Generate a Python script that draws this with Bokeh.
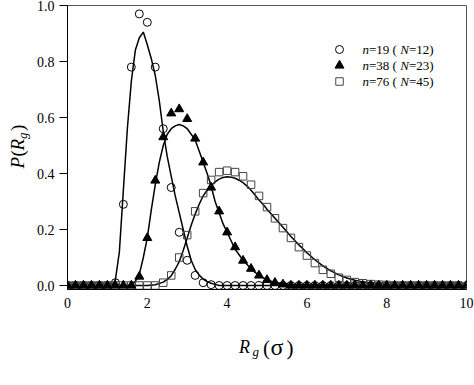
import numpy as np
from bokeh.plotting import figure
from bokeh.layouts import row, column
from bokeh.models import Range1d, FixedTicker, CustomJSTickFormatter
from bokeh.core.properties import value
from bokeh.embed import file_html
from bokeh.resources import INLINE

# ---- data ----
rg_bins = [round(0.2 * i, 1) for i in range(51)]  # 0.0 .. 10.0 step 0.2

n19_sim = [0, 0, 0, 0, 0, 0, 0.01, 0.29, 0.78, 0.97, 0.94, 0.78, 0.56, 0.35, 0.19,
           0.09, 0.036, 0.01, 0.003] + [0] * 32
n38_sim = [0] * 9 + [0.032, 0.17, 0.375, 0.53, 0.615, 0.63, 0.595, 0.525, 0.44, 0.35,
                     0.265, 0.19, 0.137, 0.089, 0.06, 0.036, 0.02, 0.01, 0.004] + [0] * 23
n76_sim = [0] * 12 + [0.01, 0.036, 0.10, 0.18, 0.265, 0.33, 0.377, 0.405, 0.41, 0.405,
                      0.39, 0.36, 0.32, 0.28, 0.24, 0.205, 0.17, 0.137, 0.107, 0.08,
                      0.056, 0.042, 0.028, 0.02, 0.012, 0.008, 0.005, 0.003, 0.002] + [0] * 9

fit19_x = [0.0, 1.0, 1.1, 1.2, 1.3, 1.4, 1.5, 1.6, 1.7, 1.8, 1.9, 2.0, 2.1, 2.2, 2.3, 2.4,
           2.5, 2.6, 2.7, 2.8, 2.9, 3.0, 3.1, 3.2, 3.3, 3.4, 3.5, 3.6, 3.7, 3.8, 10.0]
fit19_y = [0.0, 0.0, 0.0, 0.02, 0.12, 0.34, 0.56, 0.73, 0.84, 0.885, 0.905, 0.86, 0.81,
           0.75, 0.66, 0.55, 0.46, 0.39, 0.32, 0.26, 0.20, 0.14, 0.09, 0.057, 0.037,
           0.023, 0.014, 0.008, 0.004, 0.0, 0.0]

fit38_x = [0.0, 1.6, 1.7, 1.8, 1.9, 2.0, 2.1, 2.2, 2.3, 2.4, 2.5, 2.6, 2.7, 2.8, 2.9, 3.0,
           3.1, 3.2, 3.3, 3.4, 3.5, 3.6, 3.7, 3.8, 3.9, 4.0, 4.1, 4.2, 4.3, 4.4, 4.5, 4.6,
           4.7, 4.8, 4.9, 5.0, 5.2, 5.4, 5.6, 5.8, 10.0]
fit38_y = [0.0, 0.0, 0.015, 0.04, 0.10, 0.17, 0.27, 0.36, 0.44, 0.50, 0.54, 0.56, 0.57,
           0.575, 0.57, 0.56, 0.54, 0.52, 0.48, 0.44, 0.40, 0.355, 0.30, 0.26, 0.22, 0.19,
           0.16, 0.13, 0.11, 0.09, 0.075, 0.06, 0.047, 0.037, 0.028, 0.02, 0.011, 0.006,
           0.003, 0.0, 0.0]

fit76_x = [0.0, 2.0, 2.2, 2.4, 2.5, 2.6, 2.7, 2.8, 2.9, 3.0, 3.1, 3.2, 3.3, 3.4, 3.5, 3.6,
           3.7, 3.8, 3.9, 4.0, 4.1, 4.2, 4.3, 4.4, 4.5, 4.6, 4.7, 4.8, 4.9, 5.0, 5.2, 5.4,
           5.6, 5.8, 6.0, 6.2, 6.4, 6.6, 6.8, 7.0, 7.2, 7.4, 7.6, 7.8, 8.0, 8.2, 8.4, 10.0]
fit76_y = [0.0, 0.0, 0.003, 0.012, 0.022, 0.035, 0.058, 0.085, 0.125, 0.17, 0.215, 0.255,
           0.29, 0.32, 0.34, 0.357, 0.37, 0.38, 0.386, 0.388, 0.387, 0.383, 0.376, 0.367,
           0.355, 0.34, 0.323, 0.305, 0.29, 0.272, 0.24, 0.208, 0.175, 0.145, 0.117, 0.092,
           0.07, 0.052, 0.038, 0.027, 0.019, 0.013, 0.008, 0.005, 0.003, 0.001, 0.0, 0.0]

x_ticks = [0, 2, 4, 6, 8, 10]
y_ticks = [0.0, 0.2, 0.4, 0.6, 0.8, 1.0]
legend_n = ["19", "38", "76"]
legend_N = ["12", "23", "45"]

SERIF = "Liberation Serif"

# ---------------- main plot ----------------
MAIN_W, MAIN_H = 442, 319
p = figure(width=MAIN_W, height=MAIN_H, output_backend="svg", toolbar_location=None,
           x_range=Range1d(0, 10), y_range=Range1d(-4 / 280.0, 1.0),
           min_border_left=35, min_border_right=8, min_border_top=5, min_border_bottom=30)
p.grid.visible = False
p.outline_line_color = "#555555"
p.outline_line_width = 1
p.background_fill_color = "white"
p.border_fill_color = "white"

for ax in (p.xaxis[0], p.yaxis[0]):
    ax.axis_line_color = "black"
    ax.axis_line_width = 1
    ax.major_tick_line_color = "black"
    ax.minor_tick_line_color = None
    ax.major_label_text_font = SERIF
    ax.major_label_text_font_size = "14px"
    ax.major_label_text_color = "black"
p.xaxis.ticker = FixedTicker(ticks=x_ticks)
p.yaxis.ticker = FixedTicker(ticks=y_ticks)
p.yaxis.formatter = CustomJSTickFormatter(code="return tick.toFixed(1);")
p.xaxis.formatter = CustomJSTickFormatter(code="return tick.toFixed(0);")
p.yaxis.major_tick_out = 8
p.yaxis.major_tick_in = 0
p.yaxis.major_label_standoff = 5
p.xaxis.major_tick_out = 0
p.xaxis.major_tick_in = 0
p.xaxis.major_label_standoff = 8

# fitted curves
for fx, fy in ((fit19_x, fit19_y), (fit38_x, fit38_y), (fit76_x, fit76_y)):
    p.line(fx, fy, line_color="black", line_width=1.5)

# simulation points
p.scatter(rg_bins, n19_sim, marker="circle", size=8, fill_alpha=0,
          line_color="black", line_width=1)
p.scatter(rg_bins, n76_sim, marker="square", size=7.5, fill_alpha=0,
          line_color="#444444", line_width=1)
p.scatter(rg_bins, n38_sim, marker="triangle", size=9, fill_color="black",
          line_color="black", line_width=1)

# legend (manual, for mixed italic text)
px_x = 10 / 399.0
px_y = 1 / 280.0
leg_x = (339 - 67) * px_x
leg_ys = [(285 - 49) * px_y, (285 - 65) * px_y, (285 - 81) * px_y]
markers = [("circle", 0, "#000000", 8), ("triangle", 1, "#000000", 9), ("square", 0, "#444444", 7.5)]
for (mk, fa, lc, sz), ly, nn, NN in zip(markers, leg_ys, legend_n, legend_N):
    p.scatter([leg_x], [ly], marker=mk, size=sz, fill_color="black", fill_alpha=fa,
              line_color=lc, line_width=1)
    tx = (362 - 67) * px_x
    pieces = [("n", "italic", 0), ("=" + nn + " ( ", "normal", 6.5),
              ("N", "italic", 37.7), ("=" + NN + ")", "normal", 46.4)]
    for txt, style, off in pieces:
        p.text(x=[tx + off * px_x], y=[ly], text=[txt], text_font=value(SERIF),
               text_font_size="13px", text_font_style=style,
               text_baseline="middle", text_align="left", text_color="black")

# ---------------- y axis label panel: P(R_g) ----------------
YL_W = 32
yfig = figure(width=YL_W, height=385, output_backend="svg", toolbar_location=None,
              x_range=Range1d(0, YL_W), y_range=Range1d(0, 385),
              x_axis_type=None, y_axis_type=None,
              min_border=0, min_border_left=0, min_border_right=0,
              min_border_top=0, min_border_bottom=0)
yfig.grid.visible = False
yfig.outline_line_color = None

def ylab(px, py, text, size, style):
    yfig.text(x=[px], y=[385 - py], text=[text], angle=np.pi / 2,
              text_font=value(SERIF), text_font_size=size, text_font_style=style,
              text_baseline="alphabetic", text_align="left", text_color="black")

ylab(17, 168, "P", "19px", "italic")
ylab(17, 156, "(", "19px", "normal")
ylab(17, 150, "R", "19px", "italic")
ylab(21.5, 138.5, "g", "13px", "italic")
ylab(17, 130.5, ")", "19px", "normal")

# ---------------- x axis label panel: R_g (σ) ----------------
# this panel's frame is aligned with the main frame (image x 67..466)
XL_H = 385 - MAIN_H
xfig = figure(width=MAIN_W, height=XL_H, output_backend="svg", toolbar_location=None,
              x_range=Range1d(67, 466), y_range=Range1d(MAIN_H, 385),
              x_axis_type=None, y_axis_type=None,
              min_border=0, min_border_left=0, min_border_right=0,
              min_border_top=0, min_border_bottom=0)
xfig.grid.visible = False
xfig.outline_line_color = None

def xlab(px, py, text, size, style):
    xfig.text(x=[px], y=[385 + MAIN_H - py], text=[text],
              text_font=value(SERIF), text_font_size=size, text_font_style=style,
              text_baseline="alphabetic", text_align="left", text_color="black")

xlab(238.5, 346, "R", "18px", "italic")
xlab(252, 351, "g", "13px", "italic")
xlab(262.5, 347, "(", "21px", "normal")
xlab(270, 346, "σ", "24px", "normal")
xlab(286, 347, ")", "21px", "normal")

layout = row(yfig, column(p, xfig, spacing=0), spacing=0)
open("out.html", "w").write(file_html(layout, INLINE))
